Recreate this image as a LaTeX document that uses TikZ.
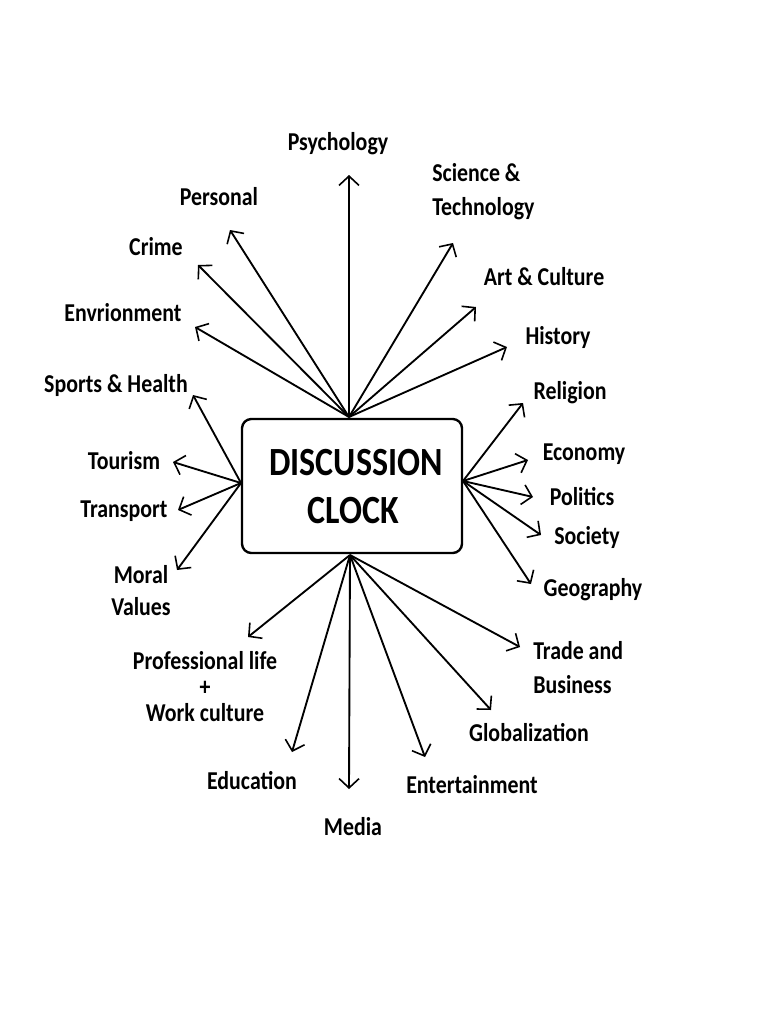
\documentclass[tikz,border=0pt]{standalone}
\usepackage{fontspec}
\setmainfont{Carlito}
\newfontfamily\tallfont[FakeStretch=0.85]{Carlito}
\usetikzlibrary{arrows.meta}
\begin{document}
\begin{tikzpicture}[x=0.75pt,y=-0.75pt,
  lbl/.style={font=\tallfont\bfseries\fontsize{19.3}{25.5}\selectfont, inner sep=0pt, align=center},
  arr/.style={line width=1.4pt, -{Straight Barb[length=7pt,width=15pt,line width=1.2pt]}},
  clockbox/.style={draw, line width=1.8pt, rounded corners=7pt, minimum width=220*0.75pt, minimum height=134*0.75pt, inner sep=0pt},
  bigtext/.style={font=\tallfont\bfseries\fontsize{30}{34}\selectfont, inner sep=0pt}]
\useasboundingbox (0,0) rectangle (768,1024);
\fill[white] (0,0) rectangle (768,1024);
% centre box
\node[clockbox] (box) at (352,486) {};
\node[bigtext] (t1) at (356,463) {DISCUSSION};
\node[bigtext] (t2) at (353,511) {CLOCK};
% hubs
\coordinate (top) at (349,417);
\coordinate (bot) at (350,555);
\coordinate (lft) at (241,483);
\coordinate (rgt) at (463,481);
% arrow tips
\coordinate (pPsy) at (349,175);
\coordinate (pPer) at (230,230);
\coordinate (pCri) at (198,265);
\coordinate (pEnv) at (195,327);
\coordinate (pSci) at (453,243);
\coordinate (pArt) at (476,307);
\coordinate (pHis) at (507,347);
\coordinate (pSpo) at (193,395);
\coordinate (pTou) at (173,462);
\coordinate (pTra) at (178,510);
\coordinate (pMor) at (177,570);
\coordinate (pRel) at (523,403);
\coordinate (pEco) at (528,460);
\coordinate (pPol) at (533,497);
\coordinate (pSoc) at (541,535);
\coordinate (pGeo) at (531,584);
\coordinate (pPro) at (248,637);
\coordinate (pEdu) at (292,752);
\coordinate (pMed) at (349,789);
\coordinate (pEnt) at (425,757);
\coordinate (pGlo) at (491,710);
\coordinate (pTrd) at (520,647);
% arrows
\foreach \t in {pPsy,pPer,pCri,pEnv,pSci,pArt,pHis} \draw[arr] (top) -- (\t);
\foreach \t in {pSpo,pTou,pTra,pMor} \draw[arr] (lft) -- (\t);
\foreach \t in {pRel,pEco,pPol,pSoc,pGeo} \draw[arr] (rgt) -- (\t);
\foreach \t in {pPro,pEdu,pMed,pEnt,pGlo,pTrd} \draw[arr] (bot) -- (\t);
% labels
\node[lbl] (lPsy) at (338,144) {Psychology};
\node[lbl] (lPer) at (219,197) {Personal};
\node[lbl] (lCri) at (156,247) {Crime};
\node[lbl] (lEnv) at (123,313) {Envrionment};
\node[lbl, align=left, anchor=west] (lSci) at (432,192) {Science \&\\Technology};
\node[lbl] (lArt) at (544,277) {Art \& Culture};
\node[lbl] (lHis) at (558,337) {History};
\node[lbl] (lSpo) at (116,385) {Sports \& Health};
\node[lbl] (lTou) at (124,461) {Tourism};
\node[lbl] (lTra) at (124,511) {Transport};
\node[lbl, font=\tallfont\bfseries\fontsize{19.3}{24}\selectfont] (lMor) at (141,591) {Moral\\Values};
\node[lbl, font=\tallfont\bfseries\fontsize{19.3}{19.5}\selectfont] (lPro) at (205,687) {Professional life\\+\\Work culture};
\node[lbl] (lRel) at (570,393) {Religion};
\node[lbl] (lEco) at (584,454) {Economy};
\node[lbl] (lPol) at (582,497) {Politics};
\node[lbl] (lSoc) at (587,537) {Society};
\node[lbl] (lGeo) at (593,590) {Geography};
\node[lbl] (lEdu) at (252,781) {Education};
\node[lbl] (lMed) at (353,827) {Media};
\node[lbl] (lEnt) at (472,785) {Entertainment};
\node[lbl] (lGlo) at (529,733) {Globalization};
\node[lbl, align=left, anchor=west] (lTrd) at (533,668) {Trade and\\Business};
\end{tikzpicture}
\end{document}
